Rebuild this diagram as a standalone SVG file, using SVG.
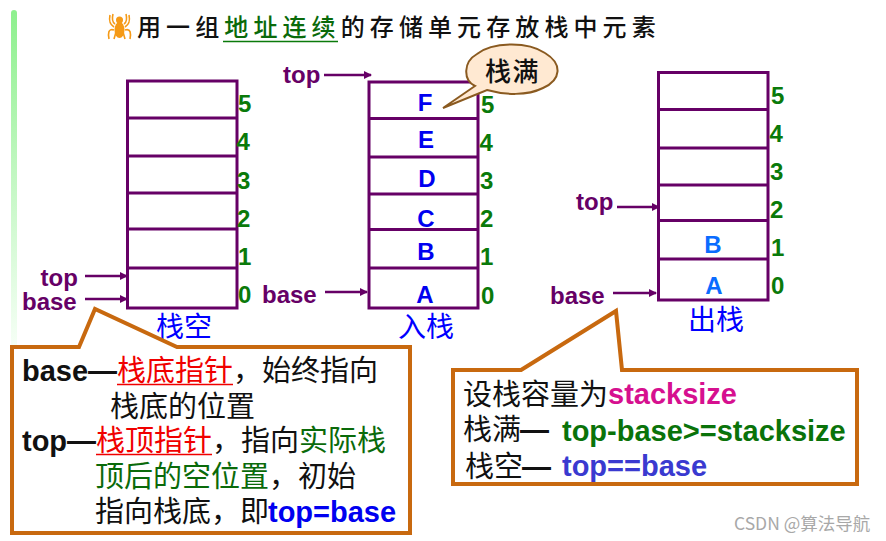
<svg xmlns="http://www.w3.org/2000/svg" width="886" height="541" viewBox="0 0 886 541">
<style>
text{font-family:"Liberation Sans","Noto Sans CJK SC",sans-serif}
.cjk{font-family:"Noto Sans CJK SC","Liberation Sans",sans-serif}
.cell{fill:#fff;stroke:#660066;stroke-width:3}
.sep{stroke:#660066;stroke-width:3}
.ptr{font-weight:700;font-size:24px;fill:#660066}
.idx{font-weight:700;font-size:24px;fill:#0a7a0a}
.el{font-weight:700;font-size:24px;fill:#0000f0;text-anchor:middle}
.el2{font-weight:700;font-size:24px;fill:#0a6cff;text-anchor:middle}
.cap{font-size:28px;fill:#0000ff}
.box{fill:#fff;stroke:#c8690f;stroke-width:4}
.t{font-size:29px}
.b{font-weight:700;font-size:29px}
.arrow{stroke:#660066;stroke-width:2.5;fill:none;marker-end:url(#ah)}
</style>
<defs>
<marker id="ah" markerUnits="userSpaceOnUse" markerWidth="8" markerHeight="10" refX="7" refY="5" orient="auto"><path d="M0 1L8 5L0 9Z" fill="#660066"/></marker>
<linearGradient id="bar" x1="0" y1="0" x2="0" y2="1"><stop offset="0" stop-color="#8ef08e"/><stop offset="0.55" stop-color="#c8f8c8"/><stop offset="1" stop-color="#f6fff6"/></linearGradient>
</defs>
<rect width="886" height="541" fill="#fff"/>
<rect x="11" y="10" width="6" height="337" rx="3" fill="url(#bar)"/>
<g id="title">
<g fill="none" stroke="#f59a16" stroke-width="1.6">
<path d="M114 30C108 28 108 34 109 39M114 27C109 24 109 20 110 15M115 24C112 22 112 18 113 14M125 30C131 28 131 34 130 39M125 27C130 24 130 20 129 15M124 24C127 22 127 18 126 14M116 32L114 39M123 32L125 39"/>
</g>
<ellipse cx="119.500" cy="30" rx="5" ry="8" fill="#f59a16"/>
<ellipse cx="119.500" cy="20" rx="3.500" ry="3.500" fill="#f59a16"/>
<text class="cjk" x="137" y="36" font-size="24" font-weight="500" letter-spacing="5.100" fill="#111">用一组<tspan fill="#0a6a0a">地址连续</tspan>的存储单元存放栈中元素</text>
<line x1="223" y1="41.500" x2="338" y2="41.500" stroke="#0a7a0a" stroke-width="1.500"/>
</g>
<g id="stack-empty">
<rect class="cell" x="127.500" y="81" width="109.500" height="227"/>
<path class="sep" d="M127.500 118H237M127.500 156H237M127.500 193H237M127.500 229H237M127.500 268H237"/>
<text class="idx" x="238" y="112">5</text><text class="idx" x="236.500" y="150">4</text><text class="idx" x="237" y="189">3</text><text class="idx" x="237" y="227">2</text><text class="idx" x="238" y="265">1</text><text class="idx" x="238" y="303">0</text>
<text class="cap cjk" x="156" y="337">栈空</text>
</g>
<g id="stack-push">
<rect class="cell" x="369" y="82" width="109" height="226"/>
<path class="sep" d="M369 118.500H478M369 157H478M369 194H478M369 229.500H478M369 268H478"/>
<text class="el" x="425" y="111">F</text><text class="el" x="426" y="148">E</text><text class="el" x="427" y="187">D</text><text class="el" x="426" y="227">C</text><text class="el" x="426" y="260">B</text><text class="el" x="425" y="303">A</text>
<text class="idx" x="481" y="113">5</text><text class="idx" x="479.500" y="151">4</text><text class="idx" x="480" y="189">3</text><text class="idx" x="480" y="227">2</text><text class="idx" x="480" y="265">1</text><text class="idx" x="481" y="304">0</text>
<text class="cap cjk" x="398" y="337">入栈</text>
</g>
<g id="stack-pop">
<rect class="cell" x="658.500" y="72.500" width="109.500" height="227.500"/>
<path class="sep" d="M658.500 109.500H768M658.500 148H768M658.500 185H768M658.500 220.500H768M658.500 259H768"/>
<text class="el2" x="713" y="253">B</text><text class="el2" x="714" y="294">A</text>
<text class="idx" x="771" y="104">5</text><text class="idx" x="769.500" y="142">4</text><text class="idx" x="770" y="180">3</text><text class="idx" x="770" y="218">2</text><text class="idx" x="771" y="256">1</text><text class="idx" x="771" y="294">0</text>
<text class="cap cjk" x="688" y="330">出栈</text>
</g>
<g id="pointers">
<text class="ptr" x="40.500" y="286">top</text>
<text class="ptr" x="22" y="310">base</text>
<text class="ptr" x="283" y="83">top</text>
<text class="ptr" x="262" y="303">base</text>
<text class="ptr" x="576" y="210">top</text>
<text class="ptr" x="550" y="304">base</text>
</g>
<g id="connectors">
<path class="arrow" d="M85 276H127"/>
<path class="arrow" d="M85 299H127"/>
<path class="arrow" d="M324 75H371"/>
<path class="arrow" d="M325 292H367"/>
<path class="arrow" d="M617 207H659"/>
<path class="arrow" d="M613 293H656"/>
</g>
<g id="callout-full">
<path d="M443 108L475 86C463 80 463 62 477 54C492 42 527 41 545 53C563 64 561 80 543 88C527 96 505 95 487 90Z" fill="#ffe9d2" stroke="#8a5a20" stroke-width="2"/>
<text class="cjk" x="485" y="81" font-size="26" font-weight="500" letter-spacing="1.500" fill="#111">栈满</text>
</g>
<g id="note-pointers" fill="#111">
<path class="box" d="M79 347L95 309L177 347H410V533H12V347Z"/>
<text class="b" x="22" y="381">base—</text>
<text class="t cjk" x="117" y="381" fill="#f00000">栈底指针</text>
<line x1="117" y1="384.500" x2="233" y2="384.500" stroke="#f00000" stroke-width="1.500"/>
<text class="t cjk" x="233" y="381">，始终指向</text>
<text class="t cjk" x="110" y="417">栈底的位置</text>
<text class="b" x="22" y="451">top—</text>
<text class="t cjk" x="96" y="451" fill="#f00000">栈顶指针</text>
<line x1="96" y1="454.500" x2="212" y2="454.500" stroke="#f00000" stroke-width="1.500"/>
<text class="t cjk" x="212" y="451">，指向<tspan fill="#0a6a0a">实际栈</tspan></text>
<text class="t cjk" x="95" y="487"><tspan fill="#0a6a0a">顶后的空位置</tspan>，初始</text>
<text class="t cjk" x="95" y="522">指向栈底，即</text>
<text class="b" x="268" y="522" fill="#0000f0">top=base</text>
</g>
<g id="note-capacity" fill="#111">
<path class="box" d="M521 370L616 311L622 370H857V484H453V370Z"/>
<text class="t cjk" x="463" y="405">设栈容量为</text>
<text class="b" x="608" y="404" fill="#d6108f">stacksize</text>
<text class="t cjk" x="463" y="440">栈满</text>
<text class="b" x="520" y="440">—</text>
<text class="b" x="562" y="441" fill="#0a730a">top-base&gt;=stacksize</text>
<text class="t cjk" x="465" y="477">栈空</text>
<text class="b" x="522" y="477">—</text>
<text class="b" x="562" y="476" fill="#3a3ad0">top==base</text>
</g>
<text class="cjk" x="734" y="530" font-size="17.500" fill="#a8a8a8">CSDN @算法导航</text>
</svg>
